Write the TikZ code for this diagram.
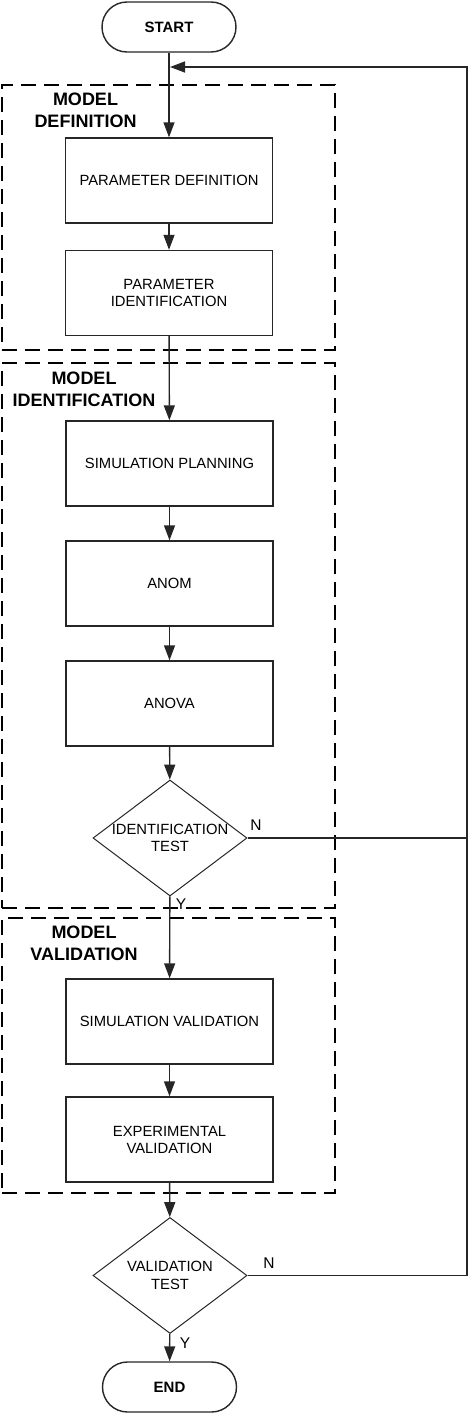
\documentclass[tikz,border=0pt]{standalone}
\usepackage{fontspec}
\setmainfont{Liberation Sans}
\usetikzlibrary{shapes.geometric,arrows.meta}
\begin{document}
\begin{tikzpicture}[x=1pt,y=-1pt,
 proc/.style={draw=black!85,line width=1.4pt,minimum width=207pt,minimum height=85pt,inner sep=0pt,align=center,font=\fontsize{14.8}{17}\selectfont},
 term/.style={draw=black!85,line width=1.4pt,rounded corners=25pt,minimum width=134pt,minimum height=50pt,inner sep=0pt,font=\bfseries\fontsize{15}{17}\selectfont},
 dia/.style={draw=black!85,line width=1pt,shape=diamond,minimum width=154pt,minimum height=116pt,inner sep=0pt},
 dtext/.style={align=center,font=\fontsize{14.8}{17.5}\selectfont},
 group/.style={draw=black,line width=2.4pt,dash pattern=on 15pt off 8pt,minimum width=333pt,inner sep=0pt},
 glabel/.style={align=center,font=\bfseries\fontsize{18}{22}\selectfont},
 yn/.style={font=\fontsize{15.5}{17}\selectfont},
 arr/.style={draw=black!85,line width=1.4pt,-{Triangle[length=15pt,width=11pt]}},
 flow/.style={draw=black!85,line width=1.4pt}]
\useasboundingbox (0,0) rectangle (474,1424);

% groups
\node[group,minimum height=265pt] (g1) at (168.5,217.5) {};
\node[group,minimum height=545pt] (g2) at (168.5,635.5) {};
\node[group,minimum height=275pt] (g3) at (168.5,1055.5) {};
\node[glabel] (l1) at (85.5,110) {MODEL\\DEFINITION};
\node[glabel] (l2) at (84,389) {MODEL\\IDENTIFICATION};
\node[glabel] (l3) at (84,943.5) {MODEL\\VALIDATION};

% nodes
\node[term] (start) at (169,27) {START};
\node[proc] (pdef) at (169,180.5) {PARAMETER DEFINITION};
\node[proc] (pid) at (169,293) {PARAMETER\\IDENTIFICATION};
\node[proc] (sp) at (169.5,463.5) {SIMULATION PLANNING};
\node[proc] (anom) at (169.5,583.5) {ANOM};
\node[proc] (anova) at (169.5,703.5) {ANOVA};
\node[dia] (idt) at (170,838) {};
\node[dtext] (idtt) at (idt.center) {IDENTIFICATION\\TEST};
\node[proc] (sv) at (169.5,1021.5) {SIMULATION VALIDATION};
\node[proc] (ev) at (169.5,1139.5) {EXPERIMENTAL\\VALIDATION};
\node[dia] (vt) at (170,1275.5) {};
\node[dtext] (vtt) at (vt.center) {VALIDATION\\TEST};
\node[term] (end) at (169.5,1387) {END};

% labels
\node[yn] (n1) at (256,825) {N};
\node[yn] (y1) at (181,904) {Y};
\node[yn] (n2) at (269,1263) {N};
\node[yn] (y2) at (185,1343) {Y};

% connectors
\coordinate (fbR) at (467,67);
\coordinate (fbJ) at (170,67);
\draw[arr] (start) -- (pdef);
\draw[arr] (pdef) -- (pid);
\draw[arr] (pid) -- (sp);
\draw[arr] (sp) -- (anom);
\draw[arr] (anom) -- (anova);
\draw[arr] (anova) -- (idt);
\draw[arr] (idt) -- (sv);
\draw[arr] (sv) -- (ev);
\draw[arr] (ev) -- (vt);
\draw[arr] (vt) -- (end);
\draw[flow] (idt.east) -- (idt.east -| fbR);
\draw[arr] (vt.east) -- (vt.east -| fbR) -- (fbR) -- (fbJ);
\end{tikzpicture}
\end{document}
